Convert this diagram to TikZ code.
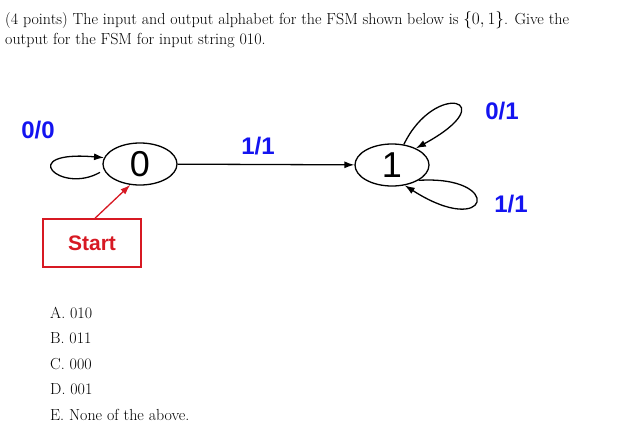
\documentclass[tikz,border=0pt]{standalone}
\usepackage{fontspec}
\newfontfamily\arial{Liberation Sans}
\usetikzlibrary{arrows.meta,shapes.geometric}
\definecolor{lblue}{RGB}{20,20,240}
\definecolor{sred}{RGB}{215,25,35}
\begin{document}
\begin{tikzpicture}[x=1pt,y=-1pt,
  txt/.style={anchor=west,inner sep=0,font=\fontsize{16}{18}\selectfont},
  state/.style={draw,ellipse,line width=1.3pt,minimum width=74pt,minimum height=42pt,inner sep=0,font=\arial\fontsize{36}{36}\selectfont},
  lab/.style={inner sep=0,text=lblue,font=\arial\bfseries\fontsize{24}{24}\selectfont},
  edge/.style={line width=1.3pt,-{Latex[length=10pt,width=7pt]}}]
\useasboundingbox (0,0) rectangle (627,434);
\node[txt] (l1) at (5,20) {(4 points) The input and output alphabet for the FSM shown below is $\{0,1\}$. Give the};
\node[txt] (l2) at (5,41) {output for the FSM for input string 010.};
\node[state] (s0) at (140,164) {0};
\node[state] (s1) at (392,165) {1};
\node[draw=sred,line width=1.5pt,minimum width=98pt,minimum height=48pt,text=sred,font=\arial\bfseries\fontsize{21}{21}\selectfont] (st) at (92,243) {Start};
\draw[edge] (s0) -- (s1);
\draw[edge,draw=sred,-{Latex[length=10pt,width=7pt]}] (st.north) ++(3,0) coordinate (sa) -- (s0.-115);
\draw[edge] (s0.190) ++(-4,2) coordinate (a0) .. controls (60,195) and (15,150) .. (s0.170);
\draw[edge] (s1.60) .. controls (435,80) and (505,100) .. (s1.35);
\draw[edge] (s1.-30) .. controls (505,175) and (490,240) .. (s1.-58);
\node[lab] (t0) at (38,130) {0/0};
\node[lab] (t1) at (258,146) {1/1};
\node[lab] (t2) at (502,111) {0/1};
\node[lab] (t3) at (511,204) {1/1};
\node[txt] (a) at (50,313) {A.\ 010};
\node[txt] (b) at (50,338) {B.\ 011};
\node[txt] (c) at (50,364) {C.\ 000};
\node[txt] (d) at (50,389) {D.\ 001};
\node[txt] (e) at (50,415) {E.\ None of the above.};
\end{tikzpicture}
\end{document}
